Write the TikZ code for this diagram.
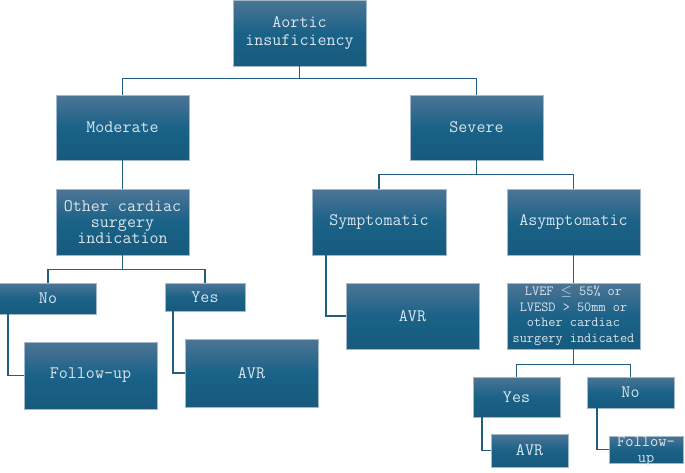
\documentclass[tikz,border=0pt]{standalone}
\usepackage{fontspec}
\usepackage{tikz}
\usetikzlibrary{positioning, calc}
\definecolor{boxtop}{HTML}{4D7595}
\definecolor{boxmid}{HTML}{1A6288}
\definecolor{boxbot}{HTML}{175A7D}
\definecolor{boxedge}{HTML}{A3B9C9}
\definecolor{boxtext}{HTML}{DCE5EC}
\definecolor{linkcol}{HTML}{215F80}

\begin{document}
\begin{tikzpicture}[
  x=1pt, y=-1pt,
  box/.style={rectangle, draw=boxedge, line width=0.8pt, top color=boxtop, bottom color=boxbot, middle color=boxmid, inner sep=0pt, align=center, text=boxtext, font=\ttfamily\fontsize{17.5}{18}\selectfont},
  link/.style={draw=linkcol, line width=1.8pt}
]
  \useasboundingbox (0,0) rectangle (685,472);

  \node[box, minimum width=133, minimum height=66] (aortic) at (299.5,33) {Aortic\\insuficiency};
  \node[box, minimum width=133, minimum height=65] (moderate) at (122.5,127.5) {Moderate};
  \node[box, minimum width=133, minimum height=65] (severe) at (476.5,127.5) {Severe};
  \node[box, minimum width=133, minimum height=66, font=\ttfamily\fontsize{17.5}{16}\selectfont] (other) at (122.5,222) {Other cardiac\\surgery\\indication};
  \node[box, minimum width=97, minimum height=31] (noleft) at (48,298.5) {No};
  \node[box, minimum width=80, minimum height=28] (yesleft) at (205,297) {Yes};
  \node[box, minimum width=133, minimum height=67] (followleft) at (90.5,375.5) {Follow-up};
  \node[box, minimum width=133, minimum height=68] (avrleft) at (251.5,373) {AVR};
  \node[box, minimum width=134, minimum height=66] (sympt) at (379,222) {Symptomatic};
  \node[box, minimum width=133, minimum height=66] (asympt) at (573.5,222) {Asymptomatic};
  \node[box, minimum width=133, minimum height=66] (avrmid) at (412.5,316) {AVR};
  \node[box, minimum width=133, minimum height=66, font=\ttfamily\fontsize{13.9}{15.5}\selectfont] (lvef) at (573.5,316) {LVEF $\leq$ 55\% or\\LVESD > 50mm or\\other cardiac\\surgery indicated};
  \node[box, minimum width=87, minimum height=40] (yesright) at (516.5,397) {Yes};
  \node[box, minimum width=87, minimum height=31] (noright) at (630.5,392.5) {No};
  \node[box, minimum width=77, minimum height=33] (avrright) at (529.5,450.5) {AVR};
  \node[box, minimum width=74, minimum height=27, font=\ttfamily\fontsize{16}{16}\selectfont] (followright) at (646,449.5) {\smash{\raisebox{-6pt}{\begin{tabular}{@{}c@{}}Follow-\\up\end{tabular}}}};

  \draw[link] (aortic.south) -- ++(0,12) -| (moderate.north);
  \draw[link] (aortic.south) -- ++(0,12) -| (severe.north);
  \draw[link] (moderate) -- (other);
  \draw[link] (other.south) -- ++(0,14) -| (noleft.north);
  \draw[link] (other.south) -- ++(0,14) -| (yesleft.north);
  \draw[link] ($(noleft.south west)+(9,0)$) |- (followleft.west);
  \draw[link] ($(yesleft.south west)+(8,0)$) |- (avrleft.west);
  \draw[link] (severe.south) -- ++(0,14) -| (sympt.north);
  \draw[link] (severe.south) -- ++(0,14) -| (asympt.north);
  \draw[link] ($(sympt.south west)+(14,0)$) |- (avrmid.west);
  \draw[link] (asympt) -- (lvef);
  \draw[link] (lvef.south) -- ++(0,15) -| (yesright.north);
  \draw[link] (lvef.south) -- ++(0,15) -| (noright.north);
  \draw[link] ($(yesright.south west)+(9,0)$) |- (avrright.west);
  \draw[link] ($(noright.south west)+(10,0)$) |- (followright.west);
\end{tikzpicture}
\end{document}
